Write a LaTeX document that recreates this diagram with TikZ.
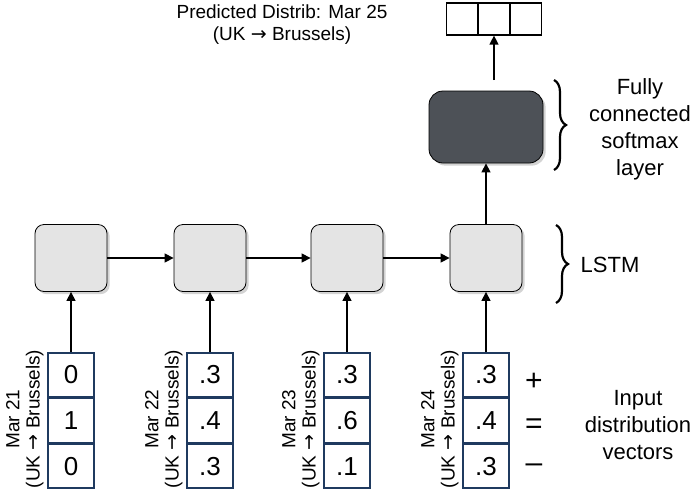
\documentclass[tikz,border=0pt]{standalone}
\usepackage{fontspec}
\setmainfont{Liberation Sans}
\newfontfamily\arrowfont{DejaVu Sans}
\usetikzlibrary{positioning,shadows,decorations.pathreplacing,arrows.meta}
\definecolor{cellblue}{HTML}{1F3A5F}
\definecolor{lstmgray}{HTML}{E4E4E4}
\definecolor{softgray}{HTML}{4D5157}
\newcommand{\ukbr}{(UK {\arrowfont\char"2192} Brussels)}
\tikzset{
  lstm/.style={draw,thick,rounded corners=9pt,fill=lstmgray,minimum width=72pt,minimum height=67pt,drop shadow={opacity=0.35}},
  soft/.style={draw,thick,rounded corners=14pt,fill=softgray,minimum width=114pt,minimum height=72pt,drop shadow={opacity=0.35}},
  cell/.style={draw=cellblue,line width=1.6pt,minimum width=46pt,minimum height=44pt,font=\fontsize{26}{26}\selectfont,inner sep=0pt},
  outcell/.style={draw,line width=1.2pt,minimum width=31pt,minimum height=32pt,inner sep=0pt},
  flow/.style={-{Triangle[length=9pt,width=9pt]},line width=1.3pt},
  lbl/.style={font=\fontsize{19}{22}\selectfont,align=center},
  side/.style={font=\fontsize{22}{27}\selectfont,align=center},
  brace/.style={decorate,decoration={brace,amplitude=12pt},line width=2.2pt}
}
\begin{document}
\begin{tikzpicture}[x=1pt,y=-1pt]
  \useasboundingbox (0,0) rectangle (699,496);
  % lstm chain
  \foreach \i/\x in {1/71,2/210,3/347,4/486}
    \node[lstm] (L\i) at (\x,258) {};
  \foreach \i/\j in {1/2,2/3,3/4}
    \draw[flow] (L\i) -- (L\j);
  \node[soft] (S) at (486,127) {};
  \draw[flow] (L4) -- (S);
  % output vector
  \node[outcell] (O2) at (494,19) {};
  \node[outcell,left=0pt of O2] (O1) {};
  \node[outcell,right=0pt of O2] (O3) {};
  \coordinate (Stop) at (494,80);
  \draw[flow] (Stop) -- (O2.south);
  \node[lbl] (P) at (282,25) {Predicted Distrib: Mar 25\\\ukbr};
  % input vectors
  \foreach \i/\x/\d/\a/\b/\c in {1/71/21/0/1/0,2/210/22/.3/.4/.3,3/347/23/.3/.6/.1,4/486/24/.3/.4/.3}{
    \node[cell] (A\i) at (\x,375) {\a};
    \node[cell,below=0pt of A\i] (B\i) {\b};
    \node[cell,below=0pt of B\i] (C\i) {\c};
    \draw[flow] (A\i) -- (L\i);
    \node[lbl,rotate=90,anchor=south] (M\i) at (\x-24,419) {\ukbr};
    \node[lbl,rotate=90,anchor=south] (D\i) at (\x-48,419) {Mar \d};
  }
  % right side labels
  \node[font=\fontsize{30}{30}\selectfont] (plus) at (534,382) {+};
  \node[font=\fontsize{30}{30}\selectfont] (eq) at (534,426) {=};
  \node[font=\fontsize{30}{30}\selectfont] (minus) at (534,468) {\textendash};
  \node[side] (inp) at (638,425) {Input\\distribution\\vectors};
  \draw[brace] (556,225) -- (556,303);
  \node[side] (lst) at (610,265) {LSTM};
  \draw[brace] (554,80) -- (554,170);
  \node[side] (fc) at (640,129) {Fully\\connected\\softmax\\layer};
\end{tikzpicture}
\end{document}
